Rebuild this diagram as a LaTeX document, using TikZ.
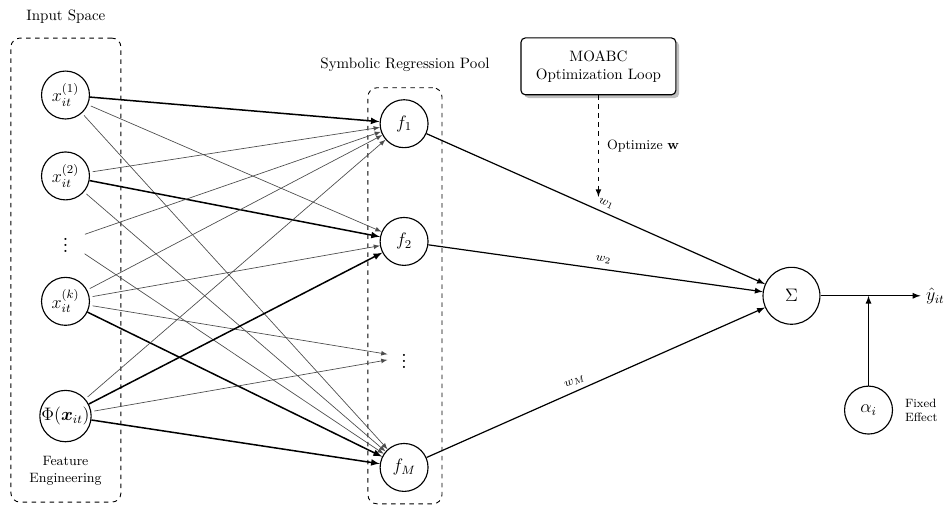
\documentclass[tikz,border=0pt]{standalone}
\usepackage{amsmath}
\usetikzlibrary{positioning,shadows}
\tikzset{every picture/.style={line width=0.75pt}}

\begin{document}
\begin{tikzpicture}[>=latex, every node/.style={font=\normalsize},
    neuron/.style={circle, draw, minimum size=1.12cm, inner sep=1pt, font=\large},
    groupbox/.style={draw, dashed, rounded corners=6pt, line width=0.6pt},
    dotsnode/.style={minimum width=0.75cm, inner sep=1pt, font=\Large},
    thinedge/.style={->, black!70, line width=0.45pt, shorten <=2pt},
    thickedge/.style={->, line width=1pt},
    weight/.style={->, line width=0.8pt}]
        \useasboundingbox (0,0) rectangle (22.24,12.03);
        % group boxes
        \node[groupbox, minimum width=2.57cm, minimum height=10.84cm] (inbox) at (1.54,5.72) {};
        \node[groupbox, minimum width=1.73cm, minimum height=9.72cm] (srbox) at (9.46,5.12) {};
        \node (inlabel) at (1.54,11.63) {Input Space};
        \node (srlabel) at (9.46,10.51) {Symbolic Regression Pool};
        % input layer
        \node[neuron] (x1) at (1.53,9.81) {$x_{it}^{(1)}$};
        \node[neuron] (x2) at (1.53,7.92) {$x_{it}^{(2)}$};
        \node[dotsnode] (xd) at (1.53,6.40) {$\vdots$};
        \node[neuron] (xk) at (1.53,4.99) {$x_{it}^{(k)}$};
        \node[neuron, inner sep=0pt] (phi) at (1.53,2.31) {$\Phi(\boldsymbol{x}_{it})$};
        \node[below=0.2cm of phi, align=center, font=\small] (feat) {Feature\\Engineering};
        % symbolic regression pool
        \node[neuron] (f1) at (9.44,9.14) {$f_1$};
        \node[neuron] (f2) at (9.44,6.39) {$f_2$};
        \node[dotsnode] (fd) at (9.44,3.69) {$\vdots$};
        \node[neuron] (fM) at (9.44,1.11) {$f_M$};
        % aggregation
        \node[neuron, minimum size=1.33cm] (sum) at (18.49,5.12) {$\Sigma$};
        \node[font=\large] (yhat) at (21.85,5.12) {$\hat{y}_{it}$};
        \node[neuron] (alpha) at (20.29,2.45) {$\alpha_i$};
        \node[right=0.15cm of alpha, align=left, font=\footnotesize] (fixlabel) {Fixed\\Effect};
        \coordinate (join) at (20.29,5.12);
        % optimizer
        \node[draw, rounded corners=3pt, fill=white, drop shadow, align=center,
              minimum width=3.62cm, minimum height=1.33cm] (moabc) at (13.98,10.48) {MOABC\\Optimization Loop};
        \coordinate (opt) at (13.98,7.43);
        \draw[->, dashed] (moabc) -- node[right=2pt, font=\small]{Optimize $\mathbf{w}$} (opt);
        % input -> pool
        \draw[thickedge] (x1) -- (f1);
        \draw[thinedge] (x1) -- (f2);
        \draw[thinedge] (x1) -- (fM);
        \draw[thinedge] (x2) -- (f1);
        \draw[thickedge] (x2) -- (f2);
        \draw[thinedge] (x2) -- (fM);
        \draw[thinedge] (xd) -- (f1);
        \draw[thinedge] (xd) -- (fM);
        \draw[thinedge] (xk) -- (f1);
        \draw[thinedge] (xk) -- (f2);
        \draw[thinedge] (xk) -- (fd);
        \draw[thickedge] (xk) -- (fM);
        \draw[thinedge] (phi) -- (f1);
        \draw[thickedge] (phi) -- (f2);
        \draw[thinedge] (phi) -- (fd);
        \draw[thickedge] (phi) -- (fM);
        % pool -> sum
        \draw[weight] (f1) -- node[pos=0.52, above, sloped, font=\footnotesize]{$w_1$} (sum);
        \draw[weight] (f2) -- node[pos=0.52, above, sloped, font=\footnotesize]{$w_2$} (sum);
        \draw[weight] (fM) -- node[pos=0.45, above, sloped, font=\footnotesize]{$w_M$} (sum);
        \draw[weight] (sum) -- (yhat);
        \draw[weight] (alpha) -- (join);
\end{tikzpicture}
\end{document}
